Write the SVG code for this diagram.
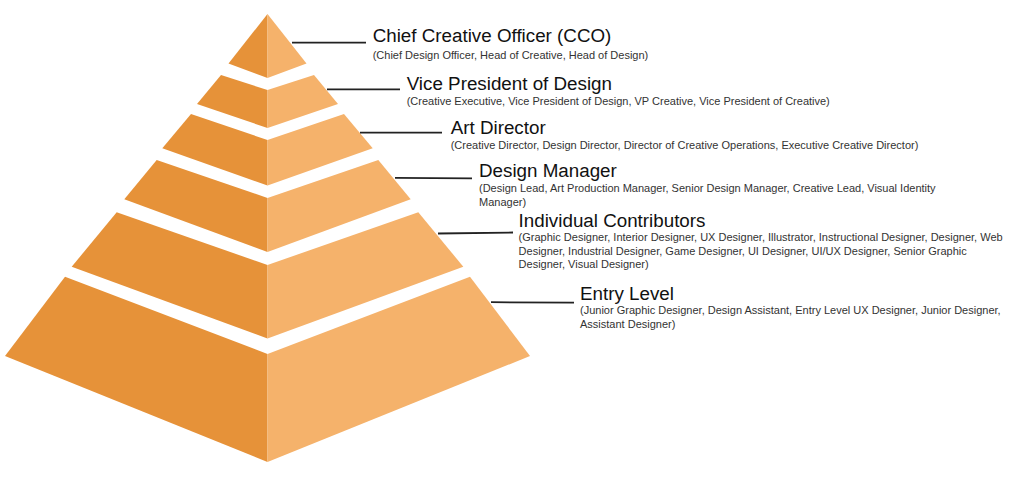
<svg xmlns="http://www.w3.org/2000/svg" width="1024" height="479" viewBox="0 0 1024 479">
<style>
.l{fill:#E69239}
.r{fill:#F5B26B}
.t{font-family:"Liberation Sans",Arial,sans-serif;font-size:18.8px;fill:#111}
.s{font-family:"Liberation Sans",Arial,sans-serif;font-size:11px;fill:#333}
.c{stroke:#222;stroke-width:1.8;fill:none}
</style>
<rect width="1024" height="479" fill="#fff"/>
<g id="tier-cco">
<polygon class="l" points="267.5,14 228.5,63.5 267.5,78"/>
<polygon class="r" points="267.5,14 306.5,63.5 267.5,78"/>
</g>
<g id="tier-vp">
<polygon class="l" points="221,75 267.5,90 267.5,128 197,104"/>
<polygon class="r" points="314,75 267.5,90 267.5,128 338,104"/>
</g>
<g id="tier-art">
<polygon class="l" points="191,114 267.5,140 267.5,185.5 162.3,148.3"/>
<polygon class="r" points="344,114 267.5,140 267.5,185.5 372.7,148.3"/>
</g>
<g id="tier-manager">
<polygon class="l" points="156.7,160 267.5,198 267.5,252 124.3,199.3"/>
<polygon class="r" points="378.3,160 267.5,198 267.5,252 410.7,199.3"/>
</g>
<g id="tier-ic">
<polygon class="l" points="116.7,212.3 267.5,265 267.5,338.5 71.7,266.7"/>
<polygon class="r" points="418.3,212.3 267.5,265 267.5,338.5 463.3,266.7"/>
</g>
<g id="tier-entry">
<polygon class="l" points="65,276.7 267.5,354 267.5,462 5,356"/>
<polygon class="r" points="470,276.7 267.5,354 267.5,462 530,356"/>
</g>
<g id="connectors">
<line class="c" x1="292" y1="42.7" x2="366" y2="42.7"/>
<line class="c" x1="327" y1="89.3" x2="400" y2="89.3"/>
<line class="c" x1="360" y1="132.6" x2="442" y2="132.6"/>
<line class="c" x1="395" y1="177.8" x2="472" y2="178.3"/>
<line class="c" x1="438" y1="233.5" x2="513" y2="232.5"/>
<line class="c" x1="491" y1="302.2" x2="574" y2="302.6"/>
</g>
<g id="label-cco">
<text class="t" x="372.7" y="41.7">Chief Creative Officer (CCO)</text>
<text class="s" x="372.7" y="59.3">(Chief Design Officer, Head of Creative, Head of Design)</text>
</g>
<g id="label-vp">
<text class="t" x="406.7" y="90">Vice President of Design</text>
<text class="s" x="406.7" y="105">(Creative Executive, Vice President of Design, VP Creative, Vice President of Creative)</text>
</g>
<g id="label-art">
<text class="t" x="450.7" y="134">Art Director</text>
<text class="s" x="450.7" y="149.3">(Creative Director, Design Director, Director of Creative Operations, Executive Creative Director)</text>
</g>
<g id="label-manager">
<text class="t" x="479" y="177.3">Design Manager</text>
<text class="s" x="479" y="191.7">(Design Lead, Art Production Manager, Senior Design Manager, Creative Lead, Visual Identity</text>
<text class="s" x="479" y="205.7">Manager)</text>
</g>
<g id="label-ic">
<text class="t" x="518.6" y="227.3">Individual Contributors</text>
<text class="s" x="518.6" y="241">(Graphic Designer, Interior Designer, UX Designer, Illustrator, Instructional Designer, Designer, Web</text>
<text class="s" x="518.6" y="254.5">Designer, Industrial Designer, Game Designer, UI Designer, UI/UX Designer, Senior Graphic</text>
<text class="s" x="518.6" y="268.3">Designer, Visual Designer)</text>
</g>
<g id="label-entry">
<text class="t" x="580" y="300">Entry Level</text>
<text class="s" x="580" y="314">(Junior Graphic Designer, Design Assistant, Entry Level UX Designer, Junior Designer,</text>
<text class="s" x="580" y="327.7">Assistant Designer)</text>
</g>
</svg>
